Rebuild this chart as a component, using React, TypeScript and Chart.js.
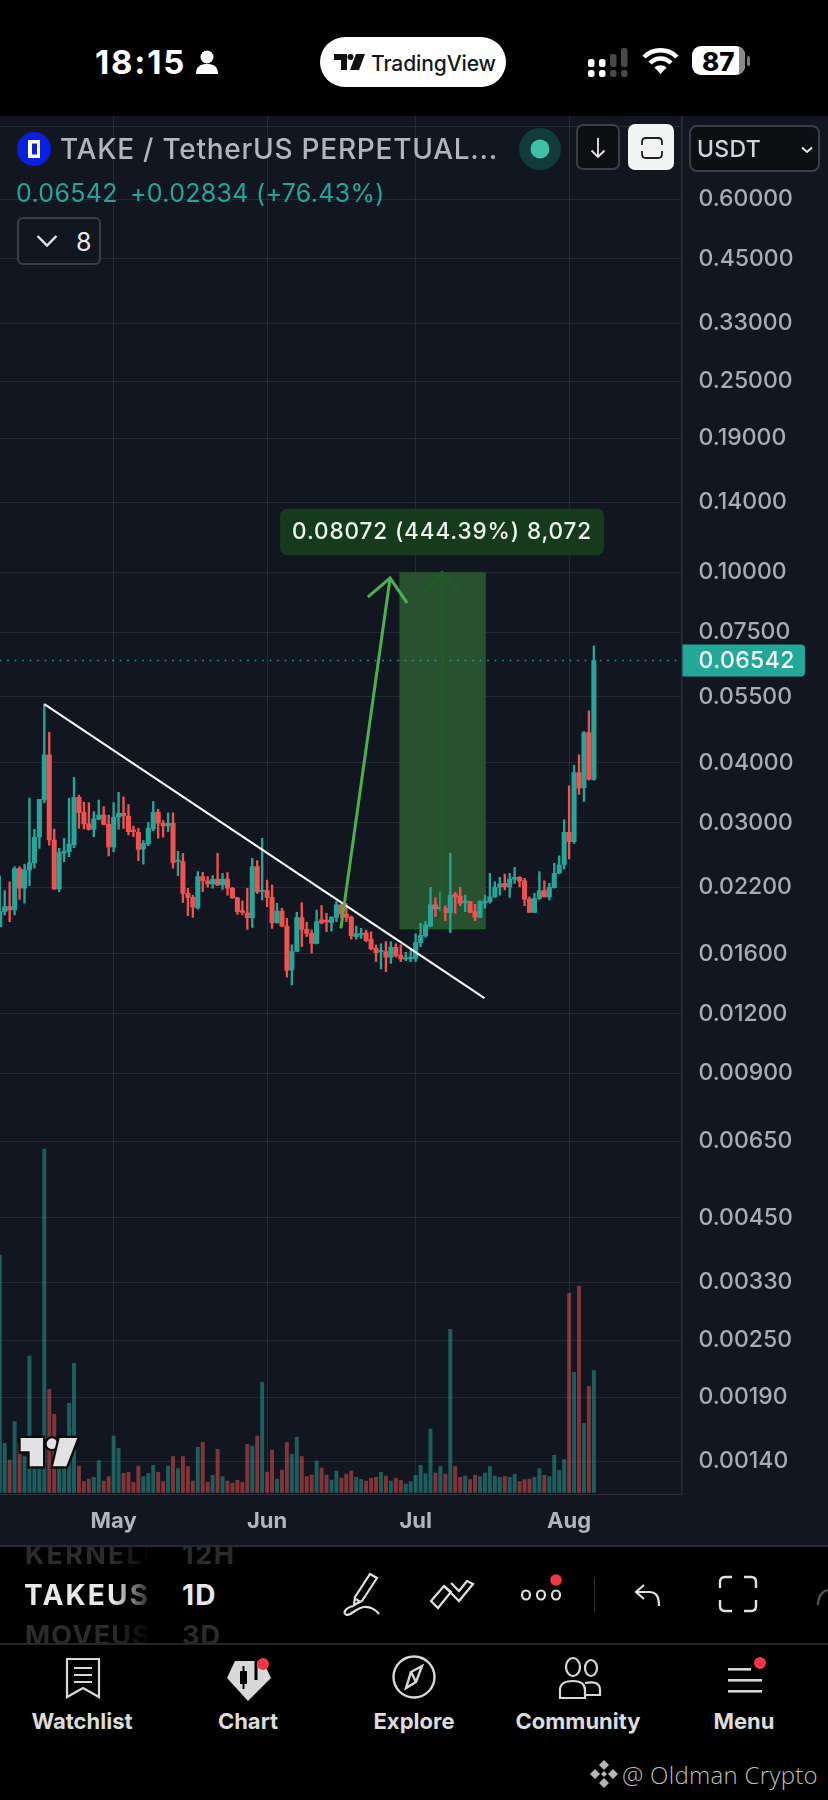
import React, { useEffect, useRef } from "react";
import { Chart, registerables } from "chart.js";

Chart.register(...registerables);

const opens = [
  0.01822, 0.01958, 0.02006, 0.01974, 0.02408, 0.02191, 0.02393, 0.02477, 0.02799, 0.03348,
  0.04157, 0.02763, 0.02184, 0.02592, 0.02612, 0.02701, 0.0339, 0.0316, 0.02984, 0.02907,
  0.03052, 0.03115, 0.02979, 0.02674, 0.03081, 0.03139, 0.031, 0.02897, 0.02866, 0.02645,
  0.0271, 0.02912, 0.0316, 0.02994, 0.02955, 0.02994, 0.0249, 0.0249, 0.02138, 0.02097,
  0.01994, 0.02317, 0.02272, 0.02237, 0.02287, 0.02226, 0.0229, 0.02191, 0.02093, 0.01968,
  0.01948, 0.01903, 0.02431, 0.02155, 0.02166, 0.02097, 0.01858, 0.01964, 0.01828, 0.0148,
  0.01617, 0.01903, 0.01798, 0.01765, 0.01682, 0.01882, 0.01876, 0.01858, 0.01906, 0.02023,
  0.01936, 0.01906, 0.01737, 0.01751, 0.0177, 0.01715, 0.01642, 0.01614, 0.01617, 0.01573,
  0.0165, 0.01589, 0.0156, 0.01563, 0.01565, 0.01688, 0.01743, 0.01828, 0.02023, 0.01987,
  0.01991, 0.01948, 0.02131, 0.0211, 0.02045, 0.02055, 0.01958, 0.01906, 0.02042, 0.02055,
  0.02103, 0.02202, 0.02244, 0.02202, 0.0229, 0.02309, 0.02272, 0.0208, 0.01952, 0.02087,
  0.02166, 0.02103, 0.02198, 0.02355, 0.02458, 0.02866, 0.02741, 0.03819, 0.03553, 0.04626,
  0.03696,
];
const highs = [
  0.02325, 0.02166, 0.02261, 0.02431, 0.02431, 0.02461, 0.03379, 0.02907, 0.03358, 0.05307,
  0.04633, 0.02912, 0.02654, 0.02786, 0.03374, 0.03733, 0.03428, 0.03311, 0.03306, 0.03165,
  0.03348, 0.03243, 0.03115, 0.03306, 0.03474, 0.034, 0.03275, 0.02955, 0.02921, 0.02754,
  0.03003, 0.03322, 0.03202, 0.03033, 0.03149, 0.03149, 0.02616, 0.02592, 0.02191, 0.0212,
  0.02374, 0.02366, 0.02317, 0.02328, 0.02592, 0.02355, 0.02362, 0.02202, 0.02097, 0.02064,
  0.02191, 0.0253, 0.02502, 0.02786, 0.02279, 0.02226, 0.02039, 0.01991, 0.01897, 0.01669,
  0.01952, 0.02045, 0.01861, 0.01792, 0.01974, 0.02016, 0.01942, 0.01912, 0.02055, 0.02023,
  0.02039, 0.01918, 0.01828, 0.01807, 0.01792, 0.01778, 0.01669, 0.01677, 0.01696, 0.01696,
  0.01677, 0.01669, 0.01611, 0.01634, 0.0176, 0.01852, 0.01867, 0.02202, 0.02093, 0.02155,
  0.02013, 0.02592, 0.02148, 0.02202, 0.0212, 0.02061, 0.02029, 0.02064, 0.0212, 0.02355,
  0.02261, 0.02309, 0.02347, 0.02355, 0.02424, 0.02317, 0.02298, 0.02103, 0.02138, 0.02374,
  0.02272, 0.02244, 0.02469, 0.02559, 0.03042, 0.03582, 0.03959, 0.04157, 0.04648, 0.05139,
  0.07009,
];
const lows = [
  0.01822, 0.01927, 0.01867, 0.01927, 0.02077, 0.02039, 0.02219, 0.02412, 0.02654, 0.03306,
  0.02696, 0.0218, 0.02155, 0.0249, 0.02551, 0.02662, 0.02921, 0.02912, 0.02897, 0.02808,
  0.03042, 0.0297, 0.02559, 0.02608, 0.02907, 0.02921, 0.0283, 0.02808, 0.02502, 0.02461,
  0.02687, 0.02888, 0.02786, 0.02799, 0.02875, 0.02412, 0.02328, 0.02048, 0.01921, 0.01906,
  0.01981, 0.02155, 0.02202, 0.02191, 0.02219, 0.0218, 0.0212, 0.02087, 0.01932, 0.01927,
  0.01798, 0.01816, 0.02138, 0.02071, 0.02006, 0.01807, 0.01852, 0.01822, 0.01429, 0.01378,
  0.01617, 0.01655, 0.01737, 0.01604, 0.01677, 0.01846, 0.01778, 0.01784, 0.01867, 0.01897,
  0.01867, 0.01715, 0.01715, 0.01723, 0.01696, 0.01629, 0.0154, 0.01487, 0.01468, 0.01527,
  0.01573, 0.0154, 0.01548, 0.0154, 0.0154, 0.01655, 0.01732, 0.01822, 0.01912, 0.01968,
  0.01876, 0.0177, 0.01942, 0.02016, 0.01958, 0.01948, 0.01876, 0.01906, 0.01991, 0.02039,
  0.02097, 0.0212, 0.02173, 0.02097, 0.02244, 0.02209, 0.02016, 0.01948, 0.01948, 0.02077,
  0.02103, 0.02071, 0.02191, 0.02347, 0.02404, 0.02522, 0.02719, 0.0344, 0.03322, 0.03684,
  0.03684,
];
const closes = [
  0.01958, 0.02006, 0.01974, 0.02408, 0.02191, 0.02393, 0.02477, 0.02799, 0.03358, 0.04157,
  0.02763, 0.02184, 0.026, 0.02621, 0.0271, 0.0339, 0.03149, 0.02984, 0.02907, 0.03057,
  0.03115, 0.02979, 0.02674, 0.03081, 0.03139, 0.031, 0.02875, 0.02875, 0.02641, 0.02719,
  0.02921, 0.03155, 0.02994, 0.02955, 0.02994, 0.02477, 0.0251, 0.02138, 0.02097, 0.02,
  0.02317, 0.02272, 0.02237, 0.02287, 0.02226, 0.0229, 0.02191, 0.02093, 0.01958, 0.01952,
  0.01903, 0.02431, 0.02152, 0.02173, 0.02097, 0.01858, 0.01964, 0.01828, 0.01476, 0.01617,
  0.01903, 0.01798, 0.01765, 0.01682, 0.01867, 0.01858, 0.01864, 0.01906, 0.02023, 0.01936,
  0.01906, 0.01743, 0.0176, 0.01765, 0.01704, 0.01637, 0.01609, 0.01624, 0.01573, 0.0165,
  0.01583, 0.0156, 0.01568, 0.01573, 0.01688, 0.01748, 0.01837, 0.02023, 0.01984, 0.02,
  0.01948, 0.0212, 0.02103, 0.02039, 0.02061, 0.01952, 0.01906, 0.02055, 0.02061, 0.02103,
  0.02202, 0.02237, 0.02209, 0.0229, 0.02309, 0.02268, 0.0208, 0.01952, 0.02087, 0.02166,
  0.02103, 0.02202, 0.02355, 0.0245, 0.02866, 0.02741, 0.03819, 0.03542, 0.04626, 0.03702,
  0.06542,
];
const volumes = [
  71.2, 14.7, 9.7, 21.2, 14.7, 10.7, 40.9, 9.7, 16.7, 103,
  30.9, 23.4, 11.7, 11.7, 26.7, 38.7, 7.9, 3.2, 4, 4.5,
  9.5, 3.4, 4.7, 16.9, 13.2, 5.7, 6, 3, 7.9, 4.7,
  5.7, 8.1, 6, 3.2, 7.9, 10.7, 7.1, 10.7, 7.7, 3.4,
  13.5, 15, 3, 5.1, 12.9, 4.7, 3.4, 2.8, 3.6, 3,
  14.4, 13.9, 16.9, 33, 6.1, 12.7, 4, 6.7, 14.9, 11.5,
  16.5, 10.7, 4.7, 5.2, 9.4, 7.3, 5.2, 3.7, 6.4, 4.3,
  5.5, 6.4, 4.5, 3.9, 3.4, 4.2, 4.5, 6, 4.9, 3.4,
  4.2, 3.6, 2.5, 3.2, 5.1, 8.1, 5.6, 19, 5.8, 7.7,
  5.5, 48.9, 7.7, 4.5, 4.9, 3.8, 5.1, 4.7, 5.8, 7.7,
  4.9, 4.5, 4.7, 4.5, 5.4, 3.2, 3.8, 4, 4.5, 7.1,
  5.1, 4.7, 11.1, 6.6, 9.8, 59.7, 36, 61.9, 20.7, 31.8,
  36.5,
];
const priceTicks = [
  0.85, 0.6, 0.45, 0.33, 0.25, 0.19, 0.14, 0.1, 0.075, 0.055, 0.04, 0.03, 0.022, 0.016, 0.012,
  0.009, 0.0065, 0.0045, 0.0033, 0.0025, 0.0019, 0.0014,
];
const monthLabels = ["May", "Jun", "Jul", "Aug"];
const monthIndexes = [23, 54, 84, 115];
const lastPrice = 0.06542;
const trendLine = [
  { x: 9, y: 0.05307 },
  { x: 97.9, y: 0.01293 },
];
const breakoutArrow = [
  { x: 68.9, y: 0.01807 },
  { x: 78.84, y: 0.0972 },
];
const breakoutHead = [
  { x: 74.33, y: 0.0887 },
  { x: 78.84, y: 0.0972 },
  { x: 82.27, y: 0.0863 },
];
const measureStart = 80.72;
const measureEnd = 98.17;
const measureMid = 89.34;
const measureLow = 0.01807;
const measureHigh = 0.1;
const measureShaft = [
  { x: measureMid, y: measureLow },
  { x: measureMid, y: measureHigh },
];
const measureHead = [
  { x: 85.24, y: 0.0904 },
  { x: measureMid, y: measureHigh },
  { x: 93, y: 0.0904 },
];
const measureLabel = "0.08072 (444.39%) 8,072";

const BG = "#121621";
const TEAL = "#26a69a";
const RED = "#f0524f";
const GRID = "rgba(255,255,255,0.085)";
const UI_FONT = "Inter, 'Noto Sans', sans-serif";

const overlayPlugin = {
  id: "tvOverlay",
  beforeDatasetsDraw(chart: any) {
    const { ctx, scales } = chart;
    const x0 = scales.x.getPixelForValue(measureStart);
    const x1 = scales.x.getPixelForValue(measureEnd);
    const yTop = scales.y.getPixelForValue(measureHigh);
    const yBot = scales.y.getPixelForValue(measureLow);
    ctx.save();
    ctx.fillStyle = "#28522f";
    ctx.fillRect(x0, yTop, x1 - x0, yBot - yTop);
    ctx.strokeStyle = "#1f5d25";
    ctx.lineWidth = 1.5;
    ctx.beginPath();
    ctx.moveTo(x0, yBot);
    ctx.lineTo(x1, yBot);
    ctx.stroke();
    ctx.restore();
  },
  afterDraw(chart: any) {
    const { ctx, scales, chartArea } = chart;
    const cx = scales.x.getPixelForValue(measureMid);
    const top = scales.y.getPixelForValue(measureHigh);
    ctx.save();
    ctx.fillStyle = "#163a1c";
    ctx.beginPath();
    ctx.roundRect(cx - 162, top - 63.5, 324, 46.5, 7);
    ctx.fill();
    ctx.font = `500 22.5px ${UI_FONT}`;
    ctx.fillStyle = "#f2f4f4";
    ctx.textAlign = "center";
    ctx.textBaseline = "middle";
    (ctx as any).letterSpacing = "0.9px";
    ctx.fillText(measureLabel, cx, top - 40);
    (ctx as any).letterSpacing = "0px";
    const py = scales.y.getPixelForValue(lastPrice);
    const px = chartArea.right + 1;
    ctx.fillStyle = "#22a898";
    ctx.beginPath();
    ctx.roundRect(px, py - 16, 122.5, 32, [0, 4, 4, 0]);
    ctx.fill();
    ctx.font = `500 23px ${UI_FONT}`;
    ctx.fillStyle = "#ffffff";
    ctx.textAlign = "left";
    (ctx as any).letterSpacing = "0.4px";
    ctx.fillText(lastPrice.toFixed(5), chartArea.right + 17, py + 1);
    ctx.restore();
  },
};

function CandleChart() {
  const ref = useRef<HTMLCanvasElement | null>(null);
  useEffect(() => {
    const idx = opens.map((_, i) => i);
    const up = idx.map((i) => closes[i] >= opens[i]);
    const chart = new Chart(ref.current as HTMLCanvasElement, {
      type: "bar",
      data: {
        datasets: [
          {
            type: "bar",
            label: "Volume",
            yAxisID: "y2",
            order: 10,
            data: idx.map((i) => ({ x: i, y: volumes[i] })),
            backgroundColor: idx.map((i) => (up[i] ? "rgba(38,166,154,0.5)" : "rgba(239,83,80,0.5)")),
            barThickness: 3.3,
            grouped: false,
          },
          {
            type: "bar",
            label: "Wicks",
            yAxisID: "y",
            order: 8,
            data: idx.map((i) => ({ x: i, y: [lows[i], highs[i]] })),
            backgroundColor: idx.map((i) => (up[i] ? TEAL : RED)),
            barThickness: 1.7,
            grouped: false,
          },
          {
            type: "bar",
            label: "Bodies",
            yAxisID: "y",
            order: 7,
            data: idx.map((i) => ({ x: i, y: [opens[i], closes[i]] })),
            backgroundColor: idx.map((i) => (up[i] ? TEAL : RED)),
            barThickness: 4.4,
            minBarLength: 1.5,
            grouped: false,
          },
          {
            type: "line",
            label: "Last price",
            yAxisID: "y",
            order: 6,
            data: [
              { x: 0, y: lastPrice },
              { x: 137.7, y: lastPrice },
            ],
            borderColor: TEAL,
            borderWidth: 1.5,
            borderDash: [1.5, 6],
            pointRadius: 0,
          },
          {
            type: "line",
            label: "Measure shaft",
            yAxisID: "y",
            order: 5,
            data: measureShaft,
            borderColor: "#1f5d25",
            borderWidth: 3,
            pointRadius: 0,
          },
          {
            type: "line",
            label: "Measure head",
            yAxisID: "y",
            order: 5,
            data: measureHead,
            borderColor: "#1f5d25",
            borderWidth: 3,
            pointRadius: 0,
          },
          {
            type: "line",
            label: "Trend",
            yAxisID: "y",
            order: 3,
            data: trendLine,
            borderColor: "#ffffff",
            borderWidth: 2,
            pointRadius: 0,
          },
          {
            type: "line",
            label: "Arrow",
            yAxisID: "y",
            order: 2,
            data: breakoutArrow,
            borderColor: "#4caf50",
            borderWidth: 3,
            pointRadius: 0,
          },
          {
            type: "line",
            label: "Arrow head",
            yAxisID: "y",
            order: 2,
            data: breakoutHead,
            borderColor: "#4caf50",
            borderWidth: 3,
            pointRadius: 0,
          },
        ] as any,
      },
      options: {
        animation: false,
        responsive: false,
        maintainAspectRatio: false,
        devicePixelRatio: 1,
        layout: { padding: 0 },
        plugins: { legend: { display: false }, title: { display: false }, tooltip: { enabled: false } },
        scales: {
          x: {
            type: "linear",
            position: "bottom",
            offset: false,
            min: 0.05,
            max: 137.7,
            grid: { color: GRID, lineWidth: 1, offset: false, drawTicks: false },
            border: { color: "#2a2e39", width: 1 },
            afterBuildTicks: (s: any) => {
              s.ticks = monthIndexes.map((value) => ({ value }));
            },
            afterFit: (s: any) => {
              s.height = 51;
              s.paddingLeft = 0;
              s.paddingRight = 0;
            },
            ticks: {
              autoSkip: false,
              maxRotation: 0,
              padding: 14,
              color: "#b2b5be",
              font: { family: UI_FONT, size: 22, weight: "700" },
              callback: (v: any) => monthLabels[monthIndexes.indexOf(Number(v))] ?? "",
            },
          },
          y: {
            type: "logarithmic",
            position: "right",
            bounds: "data",
            min: 0.001195,
            max: 0.8939,
            grid: { color: GRID, lineWidth: 1, drawTicks: false },
            border: { color: "#2a2e39", width: 1.5 },
            afterBuildTicks: (s: any) => {
              s.ticks = priceTicks.map((value) => ({ value }));
            },
            afterFit: (s: any) => {
              s.width = 146.5;
              s.paddingTop = 0;
              s.paddingBottom = 0;
            },
            ticks: {
              autoSkip: false,
              padding: 17,
              color: "#a9acb5",
              font: { family: UI_FONT, size: 23, weight: "500" },
              callback: (v: any) => (Number(v) > 0.6 ? "" : Number(v).toFixed(5)),
            },
          },
          y2: {
            type: "linear",
            display: false,
            min: -0.5,
            max: 413,
            grid: { display: false },
          },
        },
      } as any,
      plugins: [overlayPlugin as any],
    });
    return () => chart.destroy();
  }, []);
  return <canvas ref={ref} width={828} height={1429} style={{ display: "block", width: 828, height: 1429 }} />;
}

function T(props: any) {
  const { x, y, size, weight = 400, color = "#fff", anchor = "left", spacing = 0, font = UI_FONT, children } = props;
  return (
    <div
      style={{
        position: "absolute",
        left: x,
        top: y,
        transform: `translate(${anchor === "center" ? "-50%" : "0"},-50%)`,
        fontFamily: font,
        fontSize: size,
        fontWeight: weight,
        color,
        letterSpacing: spacing,
        whiteSpace: "nowrap",
        lineHeight: 1,
      }}
    >
      {children}
    </div>
  );
}

function Box(props: any) {
  const { x, y, w, h, bg = "transparent", border, radius = 0 } = props;
  return (
    <div
      style={{
        position: "absolute",
        left: x,
        top: y,
        width: w,
        height: h,
        background: bg,
        border: border ? `2px solid ${border}` : undefined,
        borderRadius: radius,
        boxSizing: "border-box",
      }}
    />
  );
}

function Clipped(props: any) {
  const { x, top, w, h, line, size, color, spacing = 0, fade, children } = props;
  return (
    <div
      style={{
        position: "absolute",
        left: x,
        top,
        width: w,
        height: h,
        overflow: "hidden",
        WebkitMaskImage: fade ? "linear-gradient(90deg,#000 72%,rgba(0,0,0,0.2) 100%)" : undefined,
        maskImage: fade ? "linear-gradient(90deg,#000 72%,rgba(0,0,0,0.2) 100%)" : undefined,
        fontFamily: UI_FONT,
        fontSize: size,
        fontWeight: 700,
        color,
        letterSpacing: spacing,
        lineHeight: `${line}px`,
        whiteSpace: "nowrap",
      }}
    >
      {children}
    </div>
  );
}

export default function App() {
  useEffect(() => {
    document.body.style.margin = "0";
    document.body.style.background = "#000";
  }, []);
  const iconStroke = "#d8d8d8";
  return (
    <div style={{ position: "absolute", left: 0, top: 0, width: 828, height: 1800, overflow: "hidden", background: "#000" }}>
      <div style={{ position: "absolute", left: 0, top: 116, width: 828, height: 1429, background: BG }}>
        <CandleChart />
      </div>

      {/* status bar */}
      <T x={95} y={62} size={33} weight={700} spacing={1.8}>18:15</T>
      <svg style={{ position: "absolute", left: 195, top: 50 }} width="24" height="24" viewBox="0 0 24 24">
        <circle cx="12" cy="7" r="6.5" fill="#fff" />
        <path d="M1 24 C1 16 6 14 12 14 C18 14 23 16 23 24 Z" fill="#fff" />
      </svg>
      <Box x={320} y={37} w={186} h={50} bg="#fff" radius={25} />
      <svg style={{ position: "absolute", left: 334, top: 54 }} width="31" height="16" viewBox="0 0 31 16">
        <path d="M0 0H13V16H7V6H0Z" fill="#111" />
        <circle cx="16.5" cy="3" r="3" fill="#111" />
        <path d="M22 0H31L25 16H16Z" fill="#111" />
      </svg>
      <T x={371} y={63} size={21} weight={500} color="#131722" spacing={-0.1}>TradingView</T>
      <svg style={{ position: "absolute", left: 586, top: 46 }} width="44" height="32" viewBox="0 0 44 32">
        {[0, 1].map((c) => (
          <g key={c} fill="#fff">
            <rect x={2 + c * 11} y={13} width="6.5" height="8" rx="2.5" />
            <rect x={2 + c * 11} y={24} width="6.5" height="7" rx="2.5" />
          </g>
        ))}
        {[2, 3].map((c) => (
          <g key={c} fill="#4a4a4a">
            <rect x={2 + c * 11} y={c === 2 ? 8 : 2} width="6.5" height={c === 2 ? 13 : 19} rx="2.5" />
            <rect x={2 + c * 11} y={24} width="6.5" height="7" rx="2.5" />
          </g>
        ))}
      </svg>
      <svg style={{ position: "absolute", left: 642, top: 47 }} width="37" height="28" viewBox="0 0 37 28">
        <g fill="none" stroke="#fff" strokeWidth="4.5">
          <path d="M2 10 C11 1 26 1 35 10" />
          <path d="M8 16 C14 10 23 10 29 16" />
        </g>
        <path d="M18.5 27 L12.5 20.5 C16 17.5 21 17.5 24.5 20.5 Z" fill="#fff" />
      </svg>
      <div style={{ position: "absolute", left: 692, top: 46, width: 53, height: 29, borderRadius: 9, overflow: "hidden", background: "#fff" }}>
        <div style={{ position: "absolute", right: 0, top: 0, width: 6, height: 29, background: "#8a8a8a" }} />
      </div>
      <Box x={747} y={56} w={3} h={10} bg="#777" radius={2} />
      <T x={702} y={62} size={26} weight={800} color="#000">87</T>

      {/* header */}
      <svg style={{ position: "absolute", left: 17, top: 132 }} width="34" height="34" viewBox="0 0 34 34">
        <circle cx="17" cy="17" r="17" fill="#0a1fe0" />
        <path d="M11 8H23V26H11Z" fill="#fff" />
        <path d="M15 11.5H20V22.5H15Z" fill="#0a1fe0" />
      </svg>
      <T x={60} y={149} size={28} weight={500} color="#b2b5be" spacing={0.75}>TAKE / TetherUS PERPETUAL...</T>
      <T x={16} y={193} size={25} weight={400} color="#22a699" spacing={0.3}>0.06542</T>
      <T x={130} y={193} size={25} weight={400} color="#22a699" spacing={0.3}>+0.02834 (+76.43%)</T>
      <Box x={17} y={217} w={84} h={48} border="#3a3e48" bg={BG} radius={6} />
      <svg style={{ position: "absolute", left: 36, top: 234 }} width="22" height="14" viewBox="0 0 22 14">
        <path d="M1.5 2 L11 11.5 L20.5 2" fill="none" stroke="#e4e4e4" strokeWidth="2.4" />
      </svg>
      <T x={76} y={242} size={25} weight={400} color="#e8e8e8">8</T>
      <svg style={{ position: "absolute", left: 519, top: 128 }} width="42" height="42" viewBox="0 0 42 42">
        <circle cx="21" cy="21" r="21" fill="#123c3b" />
        <circle cx="21" cy="21" r="9.5" fill="#3fc1a9" />
      </svg>
      <Box x={576} y={124} w={44} h={46} bg="#0e0f12" border="#3b3e47" radius={7} />
      <svg style={{ position: "absolute", left: 590, top: 137 }} width="16" height="22" viewBox="0 0 16 22">
        <path d="M8 1V20 M1.5 13.5 L8 20 L14.5 13.5" fill="none" stroke="#e8e8e8" strokeWidth="1.8" />
      </svg>
      <Box x={628} y={124} w={46} h={46} bg="#f2f4f4" radius={7} />
      <svg style={{ position: "absolute", left: 641, top: 137 }} width="22" height="22" viewBox="0 0 22 22">
        <path d="M1 8V5Q1 1 5 1H17Q21 1 21 5V8 M1 14V17Q1 21 5 21H17Q21 21 21 17V14" fill="none" stroke="#222" strokeWidth="1.8" />
      </svg>
      <Box x={689} y={125} w={131} h={47} bg="#0e0f12" border="#3b3e47" radius={8} />
      <T x={697} y={149} size={23} weight={500} color="#d1d4dc" spacing={0.3}>USDT</T>
      <svg style={{ position: "absolute", left: 801, top: 146 }} width="12" height="8" viewBox="0 0 12 8">
        <path d="M1 1.5 L6 6 L11 1.5" fill="none" stroke="#e8e8e8" strokeWidth="2" />
      </svg>

      {/* watermark logo */}
      <svg style={{ position: "absolute", left: 18, top: 1433 }} width="68" height="40" viewBox="60 940 204 120">
        <g stroke="#0b0b0b" strokeWidth="14" paintOrder="stroke" fill="#e2e2e4">
          <path d="M68 955H135V1040H95V995H68Z" />
          <circle cx="162" cy="972" r="16" />
          <path d="M185 955H238L205 1040H165Z" />
        </g>
      </svg>

      {/* toolbar */}
      <Clipped x={25} top={1546} w={122} h={24} line={18} size={27} color="#2c2c2c" spacing={2.2} fade>KERNELUSDT</Clipped>
      <Clipped x={182} top={1546} w={60} h={24} line={18} size={27} color="#2c2c2c" spacing={1.5}>12H</Clipped>
      <Box x={0} y={1545} w={828} h={1.5} bg="#262a33" />
      <Clipped x={24} top={1575} w={124} h={40} line={40} size={28} color="#e8e8e8" spacing={2.2} fade>TAKEUSDT</Clipped>
      <T x={182} y={1595} size={28} weight={700} color="#e8e8e8" spacing={1.2}>1D</T>
      <Clipped x={25} top={1617} w={122} h={26} line={38} size={27} color="#2c2c2c" spacing={1.2} fade>MOVEUSDT</Clipped>
      <Clipped x={182} top={1617} w={60} h={26} line={38} size={27} color="#2c2c2c" spacing={1}>3D</Clipped>
      <svg style={{ position: "absolute", left: 342, top: 1572 }} width="40" height="44" viewBox="0 0 40 44" fill="none" stroke="#e0e0e0" strokeWidth="2.2">
        <path d="M13 25 L28 2 L35 6 L20 29 L12 33 Z" />
        <path d="M14 27 L18 30" />
        <path d="M11 34 C3 36 0 42 5 43 C10 43 14 36 22 35 C28 34 34 38 37 42" />
      </svg>
      <svg style={{ position: "absolute", left: 429, top: 1580 }} width="46" height="30" viewBox="0 0 46 30" fill="none" stroke="#e0e0e0" strokeWidth="2.2">
        <path d="M2 21 L15 6 L22 12 L9 28 Z" />
        <path d="M15 6 L30 21 L44 4 L38 1 L30 11 L22 3" />
      </svg>
      <svg style={{ position: "absolute", left: 519, top: 1572 }} width="48" height="34" viewBox="0 0 48 34" fill="none" stroke="#e0e0e0" strokeWidth="2.2">
        <ellipse cx="7" cy="23" rx="4" ry="4.5" />
        <ellipse cx="22" cy="23" rx="4" ry="4.5" />
        <ellipse cx="37" cy="23" rx="4" ry="4.5" />
        <circle cx="37" cy="8" r="5.8" fill="#f23645" stroke="none" />
      </svg>
      <Box x={594} y={1578} w={1} h={34} bg="#2c2c2c" />
      <svg style={{ position: "absolute", left: 634, top: 1583 }} width="28" height="24" viewBox="0 0 28 24" fill="none" stroke="#e0e0e0" strokeWidth="2.2">
        <path d="M10 2 L2 9 L10 16 M2 9 H15 C22 9 25 13 25 23" />
      </svg>
      <svg style={{ position: "absolute", left: 718, top: 1575 }} width="40" height="38" viewBox="0 0 40 38" fill="none" stroke="#e0e0e0" strokeWidth="2.4">
        <path d="M14 2H7Q2 2 2 7V13 M26 2H33Q38 2 38 7V13 M14 36H7Q2 36 2 31V25 M26 36H33Q38 36 38 31V25" />
      </svg>
      <svg style={{ position: "absolute", left: 816, top: 1588 }} width="12" height="18" viewBox="0 0 12 18" fill="none" stroke="#555" strokeWidth="2.2">
        <path d="M2 17 C2 9 6 3 12 2" />
      </svg>
      <Box x={0} y={1643} w={828} h={1.5} bg="#262626" />

      {/* navigation */}
      <svg style={{ position: "absolute", left: 65, top: 1657 }} width="36" height="42" viewBox="0 0 36 42" fill="none" stroke="#d8d8d8" strokeWidth="2.2">
        <path d="M2 2H34V40L18 31L2 40Z" />
        <path d="M9 11H27 M9 18H27 M9 25H27" />
      </svg>
      <svg style={{ position: "absolute", left: 225, top: 1656 }} width="50" height="46" viewBox="0 0 50 46">
        <path d="M10 5H38L46 22L23 45L2 22Z" fill={iconStroke} />
        <rect x="15" y="15" width="7" height="13" fill="#000" />
        <path d="M18.5 10V33" stroke="#000" strokeWidth="2" />
        <path d="M31 5V24" stroke="#000" strokeWidth="3" />
        <circle cx="38" cy="8" r="6" fill="#f23645" />
      </svg>
      <svg style={{ position: "absolute", left: 392, top: 1655 }} width="44" height="44" viewBox="0 0 44 44" fill="none" stroke="#d8d8d8" strokeWidth="2.4">
        <circle cx="22" cy="22" r="20.5" />
        <path d="M30 11 L24 27 L14 33 L19 17 Z" />
        <path d="M19 17 L24 27" />
      </svg>
      <svg style={{ position: "absolute", left: 558, top: 1656 }} width="44" height="44" viewBox="0 0 44 44" fill="none" stroke="#d8d8d8" strokeWidth="2.2">
        <ellipse cx="15" cy="11" rx="7" ry="9" />
        <ellipse cx="33" cy="12" rx="6" ry="8" />
        <path d="M2 42V34Q2 25 15 25Q27 25 27 34V42Z" />
        <path d="M27 27Q42 24 42 34V39H28" />
      </svg>
      <svg style={{ position: "absolute", left: 727, top: 1656 }} width="40" height="40" viewBox="0 0 40 40">
        <rect x="1" y="12" width="23" height="2.6" fill="#d8d8d8" />
        <rect x="1" y="23" width="34" height="2.6" fill="#d8d8d8" />
        <rect x="1" y="34" width="34" height="2.6" fill="#d8d8d8" />
        <circle cx="33" cy="7" r="6" fill="#f23645" />
      </svg>
      <T x={82} y={1721} size={22} weight={700} color="#dcdcdc" anchor="center">Watchlist</T>
      <T x={248} y={1721} size={22} weight={700} color="#dcdcdc" anchor="center">Chart</T>
      <T x={414} y={1721} size={22} weight={700} color="#dcdcdc" anchor="center">Explore</T>
      <T x={578} y={1721} size={22} weight={700} color="#dcdcdc" anchor="center">Community</T>
      <T x={744} y={1721} size={22} weight={700} color="#dcdcdc" anchor="center">Menu</T>

      {/* signature */}
      <svg style={{ position: "absolute", left: 590, top: 1760 }} width="28" height="28" viewBox="0 0 28 28" fill="#b5b5b5">
        <path d="M14 0L19 5L14 10L9 5Z" />
        <path d="M14 18L19 23L14 28L9 23Z" />
        <path d="M5 9L10 14L5 19L0 14Z" />
        <path d="M23 9L28 14L23 19L18 14Z" />
        <path d="M14 11L17 14L14 17L11 14Z" />
      </svg>
      <T x={622} y={1775} size={24} weight={300} color="#bdbdbd" font="'Open Sans', sans-serif" spacing={0.3}>@ Oldman Crypto</T>
    </div>
  );
}
